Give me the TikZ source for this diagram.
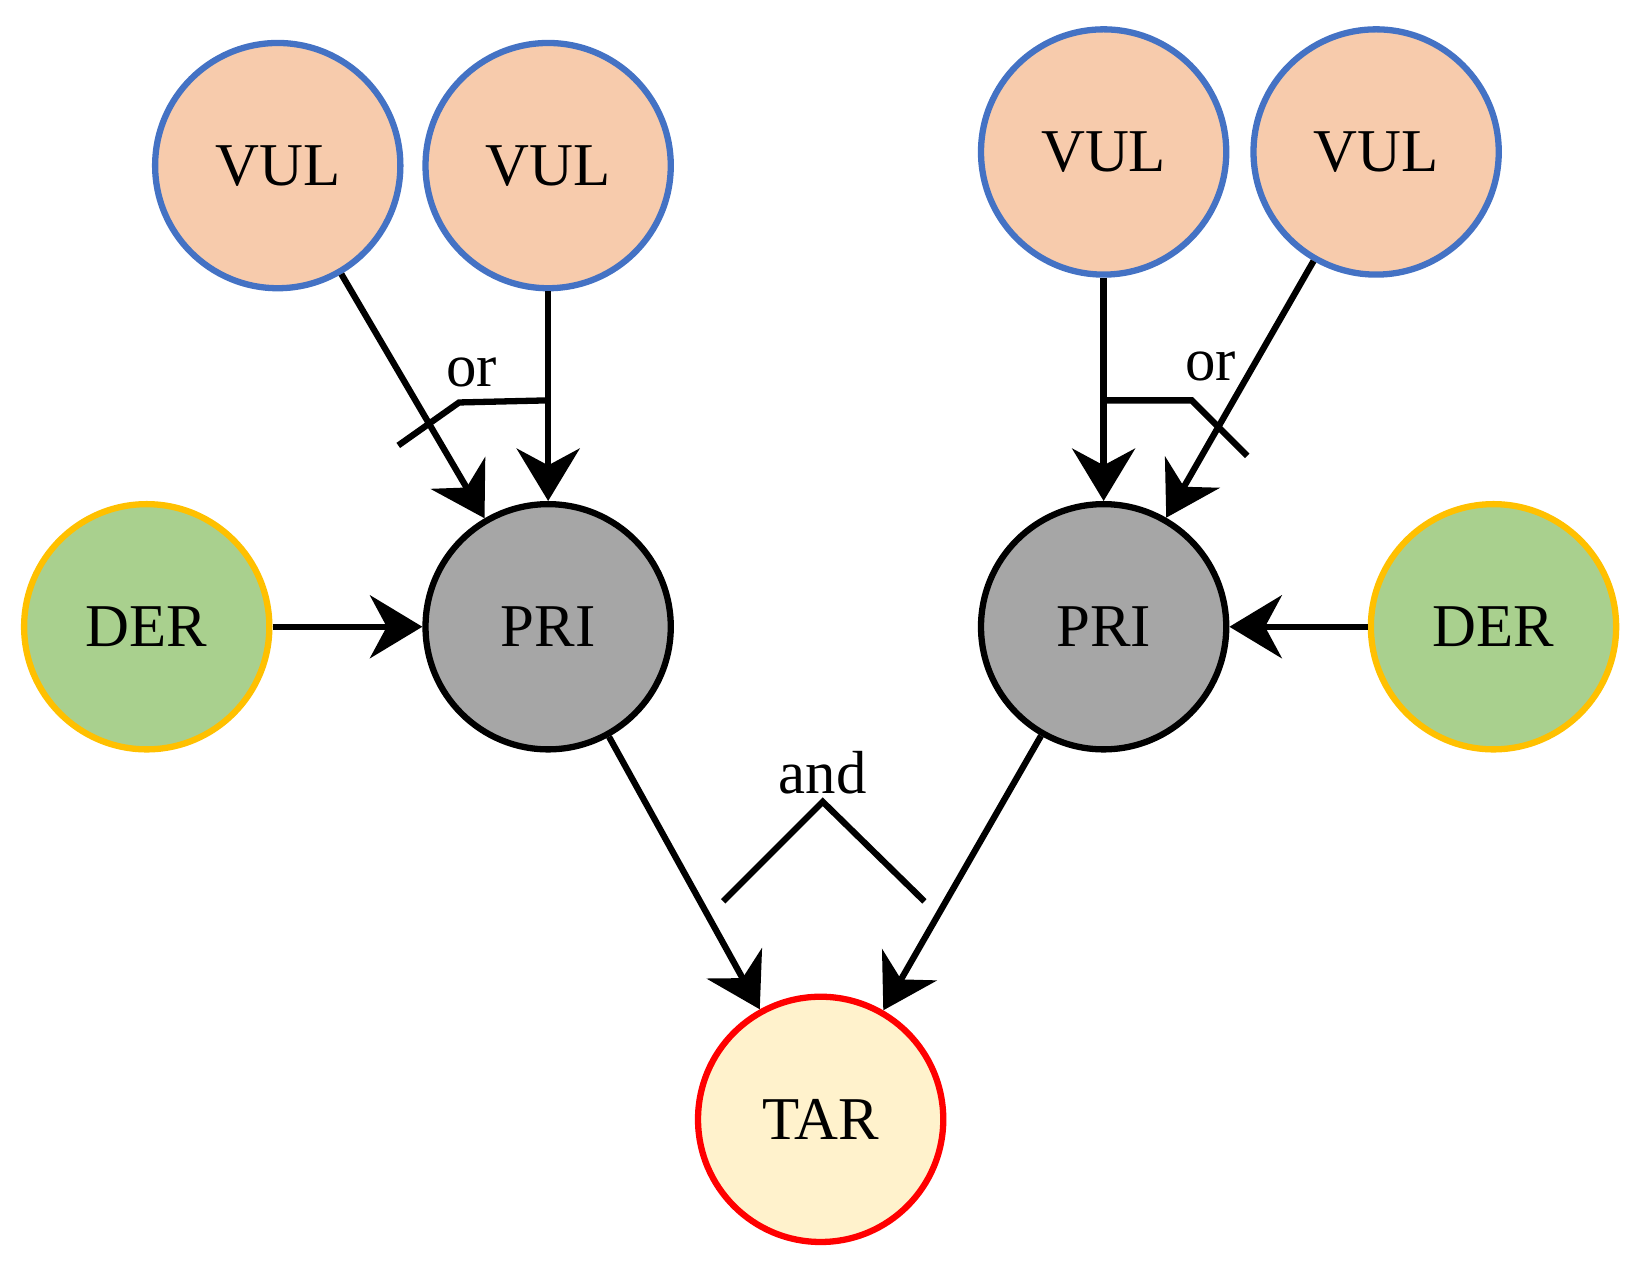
\documentclass[tikz,border=0pt]{standalone}
\usepackage{fontspec}
\setmainfont{Liberation Serif}
\usetikzlibrary{arrows.meta}
\begin{document}
\begin{tikzpicture}[x=1pt,y=-1pt,
  nd/.style={circle,minimum size=234pt,inner sep=0pt,line width=6pt,font=\fontsize{58}{60}\selectfont},
  vul/.style={nd,draw={rgb,255:red,68;green,114;blue,196},fill={rgb,255:red,247;green,203;blue,172}},
  der/.style={nd,draw={rgb,255:red,255;green,192;blue,0},fill={rgb,255:red,169;green,208;blue,142}},
  pri/.style={nd,draw=black,fill={rgb,255:red,166;green,166;blue,166}},
  tar/.style={nd,draw=red,fill={rgb,255:red,255;green,242;blue,204}},
  arr/.style={line width=6pt,-{Stealth[length=50pt,width=60pt,inset=16pt]}},
  ln/.style={line width=6pt},
  lab/.style={font=\fontsize{58}{60}\selectfont}]
\useasboundingbox (0,0) rectangle (1560,1213);
\node[vul] (v1) at (265,158) {VUL};
\node[vul] (v2) at (523,158) {VUL};
\node[vul] (v3) at (1053,145) {VUL};
\node[vul] (v4) at (1313,145) {VUL};
\node[der] (d1) at (140,598) {DER};
\node[pri] (p1) at (523,598) {PRI};
\node[pri] (p2) at (1053,598) {PRI};
\node[der] (d2) at (1425,598) {DER};
\node[tar] (t) at (783,1068) {TAR};
\draw[arr] (v1) -- (p1);
\draw[arr] (v2) -- (p1);
\draw[arr] (v3) -- (p2);
\draw[arr] (v4) -- (p2);
\draw[arr] (d1) -- (p1);
\draw[arr] (d2) -- (p2);
\draw[arr] (p1) -- (t);
\draw[arr] (p2) -- (t);
\coordinate (o1a) at (380,425); \coordinate (o1b) at (438,384); \coordinate (o1c) at (523,382);
\coordinate (o2a) at (1053,382); \coordinate (o2b) at (1137,382); \coordinate (o2c) at (1190,435);
\coordinate (aa) at (690,860); \coordinate (ab) at (785,765); \coordinate (ac) at (882,860);
\draw[ln] (o1a) -- (o1b) -- (o1c);
\draw[ln] (o2a) -- (o2b) -- (o2c);
\draw[ln] (aa) -- (ab) -- (ac);
\node[lab] (or1) at (450,355) {or};
\node[lab] (or2) at (1155,350) {or};
\node[lab] (and) at (785,737) {and};
\end{tikzpicture}
\end{document}
